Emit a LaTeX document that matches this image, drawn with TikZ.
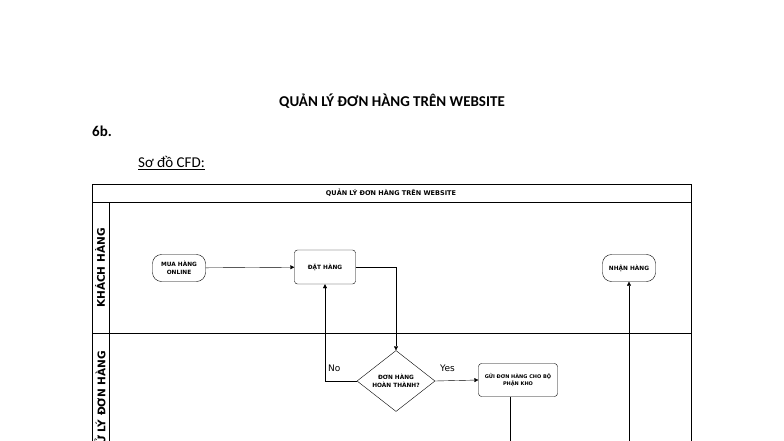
\documentclass[tikz,border=0pt]{standalone}
\usepackage{fontspec}
\setmainfont{Carlito}
\newfontfamily\dv{DejaVu Sans}
\usetikzlibrary{shapes.geometric,arrows.meta}
\begin{document}
\begin{tikzpicture}[x=1pt,y=-1pt,
  lbl/.style={font=\dv\bfseries\fontsize{5.8}{8}\selectfont,align=center,inner sep=1pt},
  stad/.style={lbl,draw,rounded corners=9pt,minimum height=27pt},
  box/.style={lbl,draw,rounded corners=3pt},
  arr/.style={-{Triangle[length=4pt,width=4pt]},thin},
  yn/.style={font=\dv\fontsize{9}{10}\selectfont,inner sep=0},
  lane/.style={font=\dv\bfseries\fontsize{10.5}{12}\selectfont,rotate=90}]
\useasboundingbox (0,0) rectangle (784,441);
\fill[white] (0,0) rectangle (784,441);
\node[font=\bfseries\fontsize{15}{17}\selectfont] (t) at (392,101) {QUẢN LÝ ĐƠN HÀNG TRÊN WEBSITE};
\node[font=\bfseries\fontsize{15}{17}\selectfont,anchor=west,inner sep=0] (b) at (92,131) {6b.};
\node[font=\fontsize{15}{17}\selectfont,anchor=west,inner sep=0] (s) at (138,163) {\underline{Sơ đồ CFD:}};
\begin{scope}
\clip (0,0) rectangle (784,441);
\draw[line width=0.8pt] (92,460) -- (92,184) -- (691,184) -- (691,460);
\draw (92,202) -- (691,202);
\draw (109,202) -- (109,460);
\draw (92,333) -- (691,333);
\node[lbl,font=\dv\bfseries\fontsize{6.5}{8}\selectfont] (hd) at (391,193) {QUẢN LÝ ĐƠN HÀNG TRÊN WEBSITE};
\node[lane] (l1) at (100,268) {KHÁCH HÀNG};
\node[lane] (l2) at (100,402) {XỬ LÝ ĐƠN HÀNG};
\node[stad,minimum width=53pt] (mua) at (179,268) {MUA HÀNG\\ONLINE};
\node[box,minimum width=61pt,minimum height=34pt] (dat) at (325,267) {ĐẶT HÀNG};
\node[stad,minimum width=53pt] (nhan) at (629,268) {NHẬN HÀNG};
\node[lbl,draw,diamond,minimum width=78pt,minimum height=61pt,inner sep=0] (dh) at (396,381) {ĐƠN HÀNG\\HOÀN THÀNH?};
\node[box,minimum width=79pt,minimum height=33pt,font=\dv\bfseries\fontsize{5}{7}\selectfont] (gui) at (518,380) {GỬI ĐƠN HÀNG CHO BỘ\\PHẬN KHO};
\coordinate (e1) at (510,460);
\coordinate (e2) at (629,460);
\draw[arr] (mua) -- (dat);
\draw[arr] (dat.east) -| (dh.north);
\draw[arr] (dh.west) -| (dat.south);
\draw[arr] (dh.east) -- (gui.west);
\node[yn,anchor=west] (no) at (328,368) {No};
\node[yn,anchor=west] (yes) at (440,368) {Yes};
\draw (gui.south -| e1) -- (e1);
\draw[arr] (e2) -- (nhan.south);
\end{scope}
\end{tikzpicture}
\end{document}
